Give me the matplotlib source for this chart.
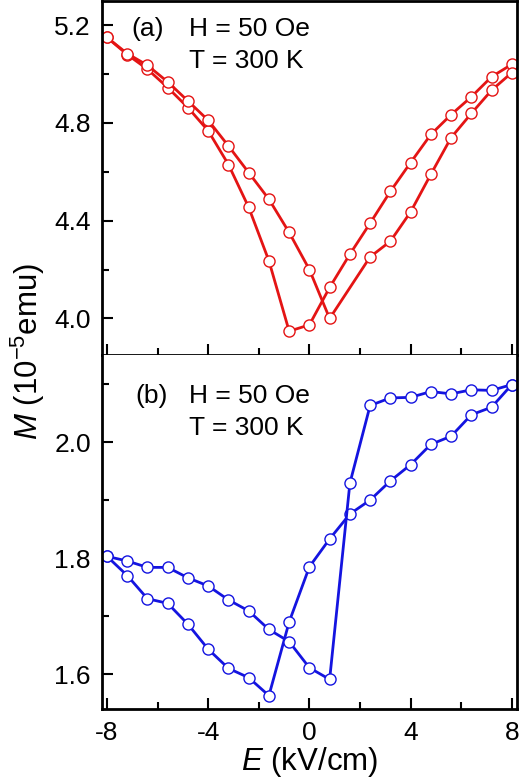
import numpy as np
import matplotlib
matplotlib.use('Agg')
import matplotlib.pyplot as plt
from matplotlib.ticker import MultipleLocator

plt.rcParams['font.family'] = ['Liberation Sans', 'DejaVu Sans']
plt.rcParams['mathtext.fontset'] = 'custom'
plt.rcParams['mathtext.rm'] = 'Liberation Sans'
plt.rcParams['mathtext.it'] = 'Liberation Sans:italic'
plt.rcParams['axes.unicode_minus'] = False

# electric field steps (kV/cm)
E = [-8, -7.2, -6.4, -5.6, -4.8, -4.0, -3.2, -2.4, -1.6, -0.8, 0,
     0.8, 1.6, 2.4, 3.2, 4.0, 4.8, 5.6, 6.4, 7.2, 8]
# branch of panel (a) without the 1.6 kV/cm point
E_skip = [-8, -7.2, -6.4, -5.6, -4.8, -4.0, -3.2, -2.4, -1.6, -0.8, 0,
          0.8, 2.4, 3.2, 4.0, 4.8, 5.6, 6.4, 7.2, 8]

# panel (a), M in 1e-5 emu
Ma_1 = [5.15, 5.08, 5.02, 4.945, 4.863, 4.768, 4.63, 4.455, 4.236, 3.948, 3.974,
        4.127, 4.263, 4.39, 4.52, 4.638, 4.753, 4.834, 4.907, 4.989, 5.04]
Ma_2 = [5.15, 5.084, 5.036, 4.968, 4.89, 4.811, 4.706, 4.597, 4.488, 4.352, 4.2,
        4.0, 4.252, 4.316, 4.436, 4.59, 4.74, 4.839, 4.934, 5.006]

# panel (b)
Mb_1 = [1.803, 1.770, 1.730, 1.722, 1.686, 1.643, 1.610, 1.594, 1.563, 1.690, 1.785,
        1.833, 1.876, 1.900, 1.933, 1.961, 1.996, 2.010, 2.047, 2.060, 2.099]
Mb_2 = [1.803, 1.795, 1.784, 1.784, 1.766, 1.752, 1.728, 1.709, 1.677, 1.656, 1.611,
        1.591, 1.929, 2.063, 2.076, 2.077, 2.087, 2.083, 2.090, 2.089, 2.099]

red = '#e41414'
blue = '#1414e0'

fig = plt.figure(figsize=(5.2, 7.84), dpi=100)
ax1 = fig.add_axes([0.196, 0.547, 0.798, 0.452])
ax2 = fig.add_axes([0.196, 0.0957, 0.798, 0.4515])

mk = dict(marker='o', ms=8, mfc='white', mew=1.0, lw=2.0)
ax1.plot(E, Ma_1, color=red, mec=red, **mk)
ax1.plot(E_skip, Ma_2, color=red, mec=red, **mk)
ax2.plot(E, Mb_1, color=blue, mec=blue, **mk)
ax2.plot(E, Mb_2, color=blue, mec=blue, **mk)

ax1.set_ylim(3.85, 5.30)
ax2.set_ylim(1.54, 2.15)
ax1.yaxis.set_major_locator(MultipleLocator(0.4))
ax1.yaxis.set_minor_locator(MultipleLocator(0.2))
ax2.yaxis.set_major_locator(MultipleLocator(0.2))
ax2.yaxis.set_minor_locator(MultipleLocator(0.1))

for ax in (ax1, ax2):
    ax.set_xlim(-8.2, 8.2)
    ax.xaxis.set_major_locator(MultipleLocator(4))
    ax.xaxis.set_minor_locator(MultipleLocator(2))
    for s in ax.spines.values():
        s.set_linewidth(2)
    ax.tick_params(which='both', direction='in', top=False, right=False,
                   width=1.5, labelsize=19)
    ax.tick_params(which='major', length=8)
    ax.tick_params(which='minor', length=5)
    ax.tick_params(axis='y', pad=8)
    ax.tick_params(axis='x', pad=9)

ax1.tick_params(axis='x', labelbottom=False)
ax2.spines['top'].set_visible(False)

fs = 19
ax1.text(0.07, 0.919, '(a)', transform=ax1.transAxes, fontsize=fs, va='center')
ax1.text(0.21, 0.919, 'H = 50 Oe', transform=ax1.transAxes, fontsize=fs, va='center')
ax1.text(0.21, 0.831, 'T = 300 K', transform=ax1.transAxes, fontsize=fs, va='center')
ax2.text(0.08, 0.884, '(b)', transform=ax2.transAxes, fontsize=fs, va='center')
ax2.text(0.21, 0.884, 'H = 50 Oe', transform=ax2.transAxes, fontsize=fs, va='center')
ax2.text(0.21, 0.795, 'T = 300 K', transform=ax2.transAxes, fontsize=fs, va='center')

ax2.set_xlabel(r'$\mathit{E}$ (kV/cm)', fontsize=22.5, labelpad=0)
fig.text(0.053, 0.552, r'$\mathit{M}$ (10$^{-5}$emu)', rotation=90,
         fontsize=22.5, ha='center', va='center')

fig.savefig('out.png', dpi=100)
